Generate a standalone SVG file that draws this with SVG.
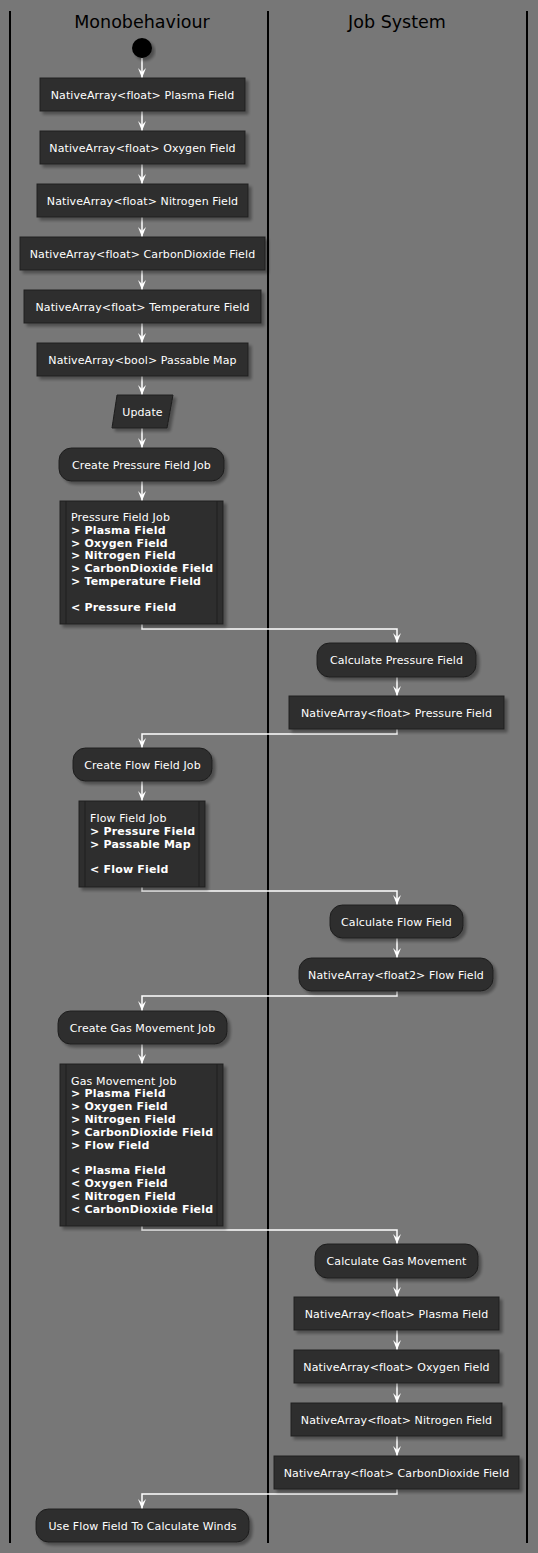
<svg xmlns="http://www.w3.org/2000/svg" width="538" height="1553" viewBox="0 0 538 1553">
<style>
.bg{fill:#777777}
.lane{stroke:#000;stroke-width:2}
.title{font-family:"DejaVu Sans",sans-serif;font-size:17.5px;fill:#000;text-anchor:middle}
.box{fill:#2d2d2d;stroke:#1e1e1e;stroke-width:1;filter:url(#sh)}
.t{font-family:"DejaVu Sans",sans-serif;font-size:11px;fill:#fff;text-anchor:middle;letter-spacing:0.1px}
.tl{font-family:"DejaVu Sans",sans-serif;font-size:11px;fill:#fff;letter-spacing:0.15px}
.b{font-weight:bold;letter-spacing:0.2px}
.inner{stroke:#1e1e1e;stroke-width:1}
.c{fill:none;stroke:#fff;stroke-width:1.5;marker-end:url(#ah)}
</style>
<defs>
<filter id="sh" x="-10%" y="-10%" width="130%" height="140%">
<feGaussianBlur in="SourceAlpha" stdDeviation="1.5"/>
<feOffset dx="3" dy="3" result="o"/>
<feComponentTransfer><feFuncA type="linear" slope="0.35"/></feComponentTransfer>
<feMerge><feMergeNode/><feMergeNode in="SourceGraphic"/></feMerge>
</filter>
<marker id="ah" viewBox="-11 -5 12 10" refX="0" refY="0" markerWidth="12" markerHeight="10" markerUnits="userSpaceOnUse" orient="auto">
<path d="M0,0 L-10,-4 L-6,0 L-10,4 Z" fill="#fff"/>
</marker>
</defs>
<rect class="bg" x="0" y="0" width="538" height="1553"/>
<g id="lanes">
<line class="lane" x1="10" y1="11" x2="10" y2="1543"/>
<line class="lane" x1="268" y1="11" x2="268" y2="1543"/>
<line class="lane" x1="527" y1="11" x2="527" y2="1543"/>
<text class="title" x="142" y="28">Monobehaviour</text>
<text class="title" x="397" y="28">Job System</text>
</g>
<g id="connectors">
<path class="c" d="M142,58 V78"/>
<path class="c" d="M142,111 V131"/>
<path class="c" d="M142,164 V184"/>
<path class="c" d="M142,217 V237"/>
<path class="c" d="M142,270 V290"/>
<path class="c" d="M142,323 V343"/>
<path class="c" d="M142,376 V395"/>
<path class="c" d="M142,428 V448"/>
<path class="c" d="M142,481 V501"/>
<path class="c" d="M142,624 V629 H397 V643"/>
<path class="c" d="M397,677 V696"/>
<path class="c" d="M397,729 V734 H142 V748"/>
<path class="c" d="M142,781 V801"/>
<path class="c" d="M142,887 V891 H397 V905"/>
<path class="c" d="M397,938 V958"/>
<path class="c" d="M397,991 V996 H142 V1011"/>
<path class="c" d="M142,1044 V1064"/>
<path class="c" d="M142,1226 V1230 H397 V1244"/>
<path class="c" d="M397,1278 V1297"/>
<path class="c" d="M397,1330 V1350"/>
<path class="c" d="M397,1383 V1403"/>
<path class="c" d="M397,1436 V1456"/>
<path class="c" d="M397,1489 V1494 H142 V1509"/>
</g>
<g id="start"><circle cx="142" cy="48" r="10" fill="#000" filter="url(#sh)"/></g>
<g id="n1"><rect class="box" x="40" y="78" width="205" height="33"/><text class="t" x="142.5" y="99">NativeArray&lt;float&gt; Plasma Field</text></g>
<g id="n2"><rect class="box" x="40" y="131" width="205" height="33"/><text class="t" x="142.5" y="152">NativeArray&lt;float&gt; Oxygen Field</text></g>
<g id="n3"><rect class="box" x="37" y="184" width="211" height="33"/><text class="t" x="142.5" y="205">NativeArray&lt;float&gt; Nitrogen Field</text></g>
<g id="n4"><rect class="box" x="20" y="237" width="245" height="33"/><text class="t" x="142.5" y="258">NativeArray&lt;float&gt; CarbonDioxide Field</text></g>
<g id="n5"><rect class="box" x="24" y="290" width="237" height="33"/><text class="t" x="142.5" y="311">NativeArray&lt;float&gt; Temperature Field</text></g>
<g id="n6"><rect class="box" x="37" y="343" width="211" height="33"/><text class="t" x="142.5" y="364">NativeArray&lt;bool&gt; Passable Map</text></g>
<g id="update"><polygon class="box" points="117,395 173,395 167,428 112,428"/><text class="t" x="142.5" y="416">Update</text></g>
<g id="createPressure"><rect class="box" x="59" y="448" width="165" height="33" rx="12.5"/><text class="t" x="141.5" y="469">Create Pressure Field Job</text></g>
<g id="pressureJob"><rect class="box" x="60" y="501" width="163" height="123"/>
<line class="inner" x1="66" y1="501" x2="66" y2="624"/><line class="inner" x1="217" y1="501" x2="217" y2="624"/>
<text class="tl" x="71" y="521">Pressure Field Job</text>
<text class="tl b" x="71" y="534">&gt; Plasma Field</text>
<text class="tl b" x="71" y="547">&gt; Oxygen Field</text>
<text class="tl b" x="71" y="559">&gt; Nitrogen Field</text>
<text class="tl b" x="71" y="572">&gt; CarbonDioxide Field</text>
<text class="tl b" x="71" y="585">&gt; Temperature Field</text>
<text class="tl b" x="71" y="611">&lt; Pressure Field</text></g>
<g id="calcPressure"><rect class="box" x="317" y="643" width="159" height="34" rx="12.5"/><text class="t" x="396.5" y="664">Calculate Pressure Field</text></g>
<g id="pressureArray"><rect class="box" x="289" y="696" width="215" height="33"/><text class="t" x="396.5" y="717">NativeArray&lt;float&gt; Pressure Field</text></g>
<g id="createFlow"><rect class="box" x="73" y="748" width="139" height="33" rx="12.5"/><text class="t" x="142.5" y="769">Create Flow Field Job</text></g>
<g id="flowJob"><rect class="box" x="79" y="801" width="126" height="86"/>
<line class="inner" x1="85" y1="801" x2="85" y2="887"/><line class="inner" x1="199" y1="801" x2="199" y2="887"/>
<text class="tl" x="90" y="822">Flow Field Job</text>
<text class="tl b" x="90" y="835">&gt; Pressure Field</text>
<text class="tl b" x="90" y="848">&gt; Passable Map</text>
<text class="tl b" x="90" y="873">&lt; Flow Field</text></g>
<g id="calcFlow"><rect class="box" x="330" y="905" width="133" height="33" rx="12.5"/><text class="t" x="396.5" y="926">Calculate Flow Field</text></g>
<g id="flowArray"><rect class="box" x="299" y="958" width="194" height="33" rx="12.5"/><text class="t" x="396" y="979">NativeArray&lt;float2&gt; Flow Field</text></g>
<g id="createGas"><rect class="box" x="58" y="1011" width="169" height="33" rx="12.5"/><text class="t" x="142.5" y="1032">Create Gas Movement Job</text></g>
<g id="gasJob"><rect class="box" x="60" y="1064" width="163" height="162"/>
<line class="inner" x1="66" y1="1064" x2="66" y2="1226"/><line class="inner" x1="217" y1="1064" x2="217" y2="1226"/>
<text class="tl" x="71" y="1085">Gas Movement Job</text>
<text class="tl b" x="71" y="1097">&gt; Plasma Field</text>
<text class="tl b" x="71" y="1110">&gt; Oxygen Field</text>
<text class="tl b" x="71" y="1123">&gt; Nitrogen Field</text>
<text class="tl b" x="71" y="1136">&gt; CarbonDioxide Field</text>
<text class="tl b" x="71" y="1149">&gt; Flow Field</text>
<text class="tl b" x="71" y="1174">&lt; Plasma Field</text>
<text class="tl b" x="71" y="1187">&lt; Oxygen Field</text>
<text class="tl b" x="71" y="1200">&lt; Nitrogen Field</text>
<text class="tl b" x="71" y="1213">&lt; CarbonDioxide Field</text></g>
<g id="calcGas"><rect class="box" x="315" y="1244" width="163" height="34" rx="12.5"/><text class="t" x="396.5" y="1265">Calculate Gas Movement</text></g>
<g id="r1"><rect class="box" x="294" y="1297" width="205" height="33"/><text class="t" x="396.5" y="1318">NativeArray&lt;float&gt; Plasma Field</text></g>
<g id="r2"><rect class="box" x="294" y="1350" width="205" height="33"/><text class="t" x="396.5" y="1371">NativeArray&lt;float&gt; Oxygen Field</text></g>
<g id="r3"><rect class="box" x="291" y="1403" width="211" height="33"/><text class="t" x="396.5" y="1424">NativeArray&lt;float&gt; Nitrogen Field</text></g>
<g id="r4"><rect class="box" x="274" y="1456" width="245" height="33"/><text class="t" x="396.5" y="1477">NativeArray&lt;float&gt; CarbonDioxide Field</text></g>
<g id="winds"><rect class="box" x="36" y="1509" width="213" height="33" rx="12.5"/><text class="t" x="142.5" y="1530">Use Flow Field To Calculate Winds</text></g>
</svg>
